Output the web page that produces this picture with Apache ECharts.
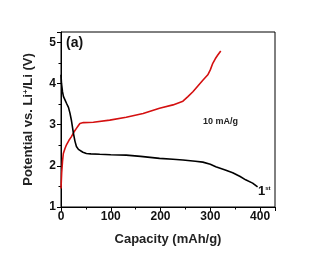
<!DOCTYPE html>
<html><head><meta charset="utf-8">
<script src="https://cdn.jsdelivr.net/npm/echarts@6/dist/echarts.min.js"></script>
<style>html,body{margin:0;padding:0;background:#fff}#c{width:313px;height:264px}</style>
</head><body><div id="c"></div>
<script>
// Discharge (black) curve: capacity (mAh/g), potential (V)
const dischargeCap = [0, 1, 3, 5, 8, 11, 15, 18, 21, 25, 28, 31, 35, 38, 44, 51, 60, 78, 100, 131, 160, 198, 225, 245, 270, 285, 300, 311, 330, 345, 360, 371, 385, 395];
const dischargeV   = [4.21, 4.0, 3.8, 3.68, 3.6, 3.52, 3.42, 3.28, 3.1, 2.79, 2.6, 2.47, 2.4, 2.37, 2.33, 2.30, 2.29, 2.28, 2.27, 2.26, 2.23, 2.18, 2.16, 2.14, 2.11, 2.09, 2.04, 1.98, 1.9, 1.83, 1.74, 1.66, 1.58, 1.49];
// Charge (red) curve
const chargeCap = [0, 1.3, 3, 4.7, 8, 11, 16, 21, 26, 31, 35, 38, 45, 65, 98, 131, 165, 198, 225, 245, 255, 265, 275, 285, 295, 300, 305, 310, 315, 321];
const chargeV   = [1.45, 1.82, 2.1, 2.3, 2.42, 2.51, 2.62, 2.71, 2.82, 2.91, 2.98, 3.03, 3.05, 3.06, 3.11, 3.18, 3.27, 3.40, 3.48, 3.57, 3.68, 3.80, 3.94, 4.08, 4.21, 4.33, 4.49, 4.6, 4.69, 4.79];
const xTicks = [0, 100, 200, 300, 400];
const yTicks = [1, 2, 3, 4, 5];

const FONT = '"Liberation Sans", Arial, sans-serif';
const chart = echarts.init(document.getElementById('c'), null, {renderer: 'canvas'});
const zip = (a, b) => a.map((v, i) => [v, b[i]]);
chart.setOption({
  animation: false,
  backgroundColor: '#fff',
  grid: {left: 61, right: 38, top: 32, bottom: 57, show: true, borderColor: '#000', borderWidth: 1, backgroundColor: 'transparent'},
  xAxis: {
    type: 'value', min: 0, max: 430, interval: 100,
    name: 'Capacity (mAh/g)', nameLocation: 'middle', nameGap: 26,
    nameTextStyle: {fontFamily: FONT, fontWeight: 'bold', fontSize: 13, color: '#222'},
    axisLine: {lineStyle: {color: '#000', width: 1}},
    axisTick: {show: true, inside: false, length: 4, lineStyle: {color: '#000'}},
    minorTick: {show: true, splitNumber: 2, length: 2.5, lineStyle: {color: '#000'}},
    splitLine: {show: false},
    axisLabel: {fontFamily: FONT, fontWeight: 'bold', fontSize: 12, color: '#111', margin: 4,
      formatter: v => xTicks.includes(v) ? String(v) : ''}
  },
  yAxis: {
    type: 'value', min: 1, max: 5.25, interval: 1,
    name: '{a|Potential vs. Li}{s|+}{a|/Li (V)}', nameLocation: 'middle', nameGap: 26, nameRotate: 90,
    nameTextStyle: {rich: {
      a: {fontFamily: FONT, fontWeight: 'bold', fontSize: 13, color: '#222'},
      s: {fontFamily: FONT, fontWeight: 'bold', fontSize: 8, color: '#222', verticalAlign: 'top'}
    }},
    axisLine: {show: true, lineStyle: {color: '#000', width: 1}},
    axisTick: {show: true, inside: false, length: 4, lineStyle: {color: '#000'}},
    minorTick: {show: true, splitNumber: 2, length: 2.5, lineStyle: {color: '#000'}},
    splitLine: {show: false},
    axisLabel: {fontFamily: FONT, fontWeight: 'bold', fontSize: 12, color: '#111', margin: 5,
      formatter: v => yTicks.includes(v) ? String(v) : ''}
  },
  graphic: [
    {type: 'text', left: 66, top: 36, style: {text: '(a)', font: 'bold 14px ' + FONT, fill: '#111'}},
    {type: 'text', left: 203, top: 117, style: {text: '10 mA/g', font: 'bold 9px ' + FONT, fill: '#222'}},
    {type: 'text', left: 258, top: 185, style: {
      text: '{n|1}{s|st}',
      rich: {n: {font: 'bold 13px ' + FONT, fill: '#111'}, s: {font: 'bold 6px ' + FONT, fill: '#111', verticalAlign: 'top'}}
    }}
  ],
  series: [
    {type: 'line', data: zip(dischargeCap, dischargeV), showSymbol: false, symbol: 'none',
      lineStyle: {color: '#000', width: 1.6}, z: 3},
    {type: 'line', data: zip(chargeCap, chargeV), showSymbol: false, symbol: 'none',
      lineStyle: {color: '#d41010', width: 1.6}, z: 2}
  ]
});
</script></body></html>
